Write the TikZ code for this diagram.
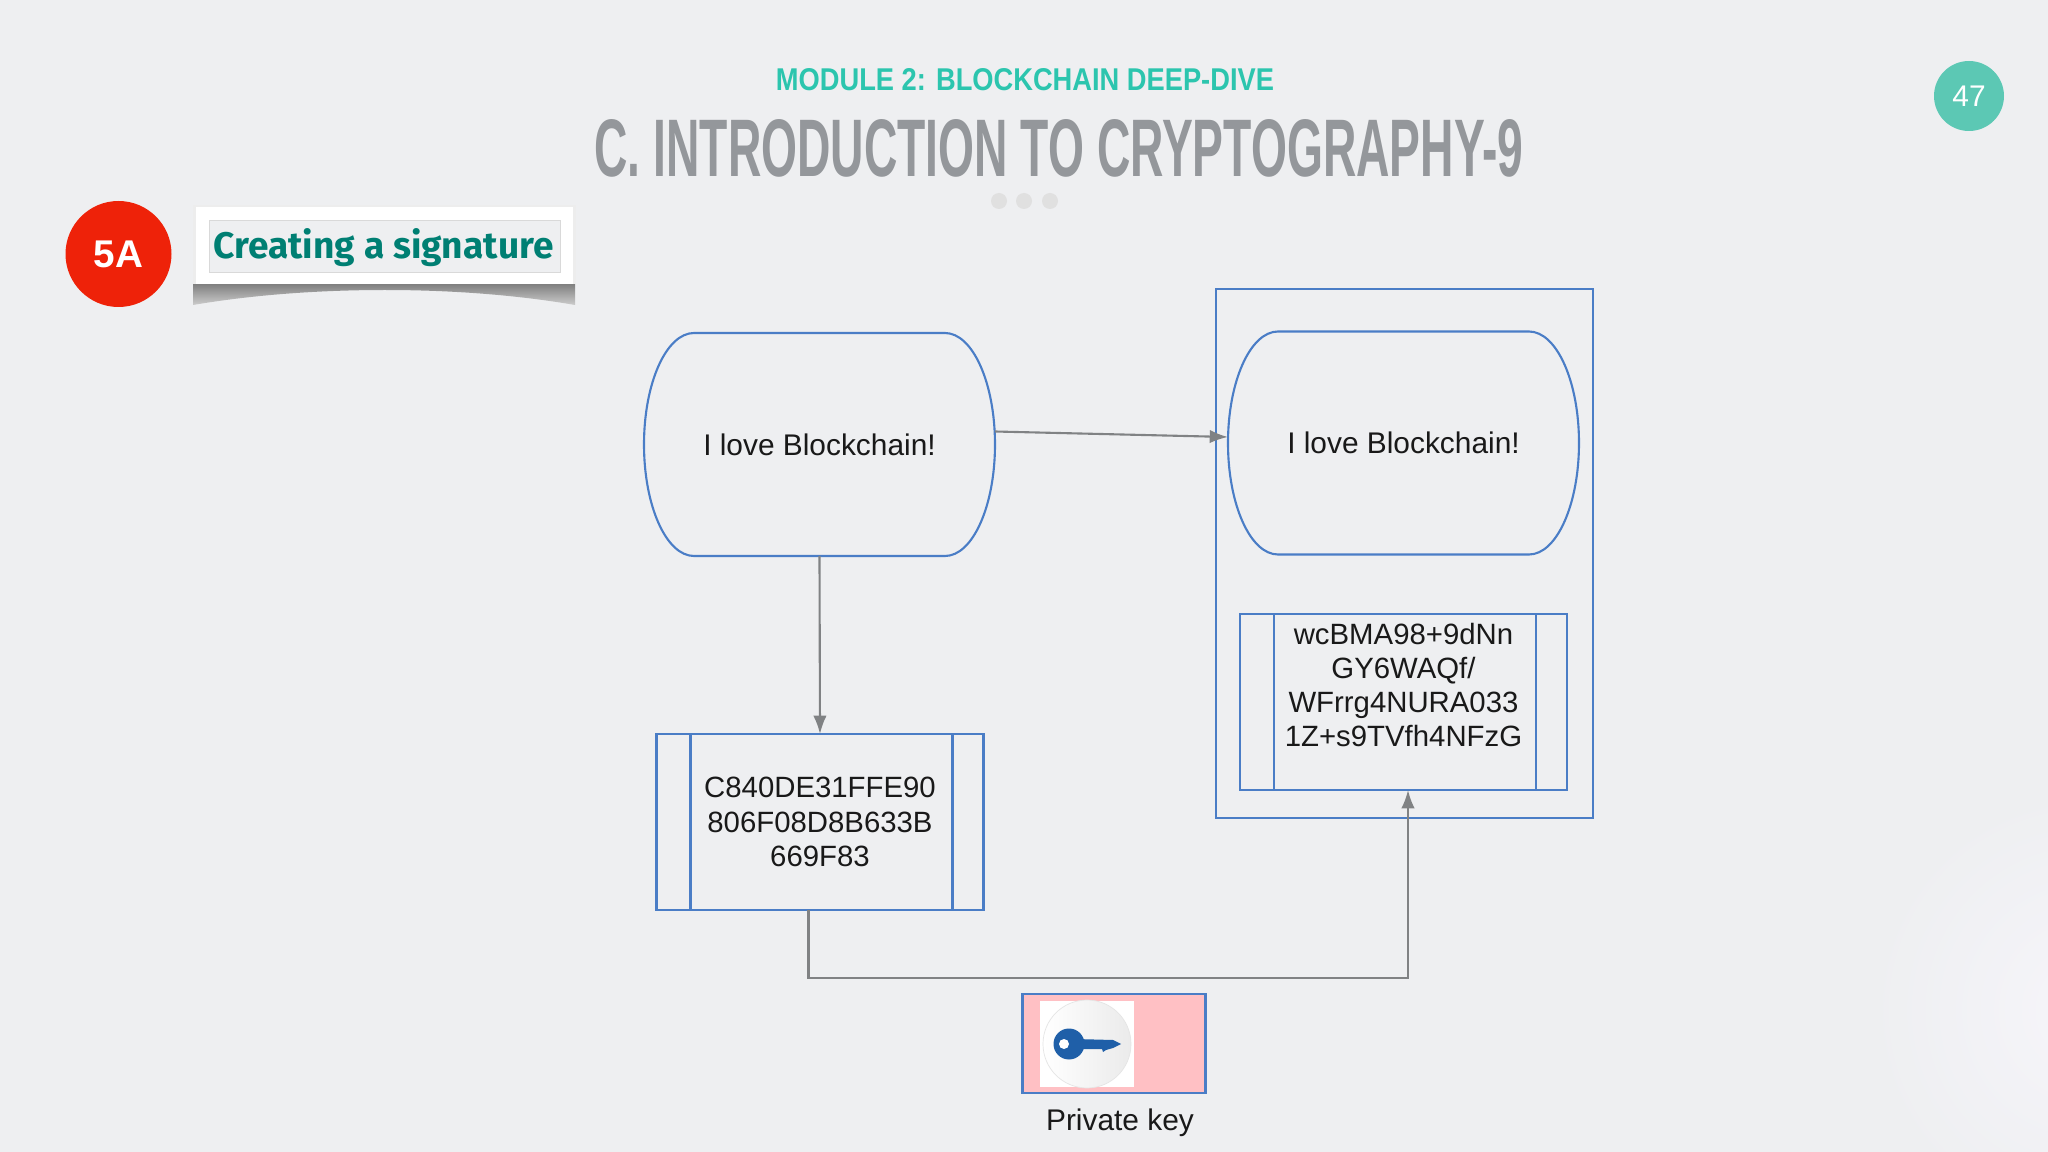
\documentclass[tikz,border=0pt]{standalone}
\usepackage{graphicx}
\usepackage{fontspec}
\setmainfont{Liberation Sans}
\newfontfamily\tagfont{Fira Sans}
\usetikzlibrary{arrows.meta}
\definecolor{pagebg}{HTML}{EEEFF1}
\definecolor{pageglow}{HTML}{F6F5FA}
\definecolor{boxblue}{HTML}{4A7DC6}
\definecolor{linkgray}{HTML}{808284}
\definecolor{titlegray}{HTML}{94979B}
\definecolor{moduleteal}{HTML}{2CC5AE}
\definecolor{badgeteal}{HTML}{5CC8B4}
\definecolor{tagteal}{HTML}{007F73}
\definecolor{stepred}{HTML}{EE2209}
\definecolor{keypink}{HTML}{FFC0C4}
\definecolor{keyblue}{HTML}{1F5FA8}
\tikzset{
  boxline/.style={draw=boxblue,line width=0.6pt},
  linkline/.style={draw=linkgray,line width=0.6pt,-{Latex[length=5.2pt,width=3.8pt]}},
  plaintext/.style={inner sep=0pt,outer sep=0pt,font=\fontsize{8.5}{9.76}\selectfont,align=center,text=black!90},
  procbox/.style={boxline,inner sep=0pt,minimum width=3.27cm,minimum height=1.76cm,plaintext,font=\fontsize{8.35}{9.76}\selectfont},
}
\begin{document}
\begin{tikzpicture}
\useasboundingbox (0,0) rectangle (20.48,-11.52);
\fill[pagebg] (0,0) rectangle (20.48,-11.52);
\shade[inner color=pageglow,outer color=pagebg] (20.9,-10.1) circle (2.2);

% heading
\node[inner sep=0pt,anchor=base,text=moduleteal] (module) at (10.25,-0.91)
  {\resizebox{4.98cm}{0.22cm}{\bfseries MODULE 2: BLOCKCHAIN DEEP-DIVE}};
\node[inner sep=0pt,anchor=base,text=titlegray] (title) at (10.59,-1.77)
  {\resizebox{9.29cm}{0.57cm}{\bfseries C. INTRODUCTION TO CRYPTOGRAPHY-9}};
\foreach \x in {9.99,10.24,10.50}
  \fill[black!12] (\x,-2.01) circle (0.08);
\node[circle,fill=badgeteal,text=white,minimum size=0.70cm,inner sep=0pt,
  font=\fontsize{8.5}{10}\selectfont] (page) at (19.69,-0.96) {47};

% step tag
\node[circle,fill=stepred,text=white,minimum size=1.06cm,inner sep=0pt,
  font=\fontsize{11}{13}\bfseries] (stepno) at (1.185,-2.54) {5A};
\shade[top color=black!50,middle color=black!30,bottom color=black!20]
  (1.93,-2.84) -- (5.75,-2.84) -- (5.75,-3.05)
  .. controls (4.6,-2.85) and (3.1,-2.85) .. (1.93,-3.05) -- cycle;
\fill[black!7] (1.93,-2.05) rectangle (5.76,-2.84);
\fill[white] (1.96,-2.07) rectangle (5.73,-2.84);
\node[draw=black!15,line width=0.2pt,fill=pagebg,minimum width=3.51cm,minimum height=0.52cm,
  inner sep=0pt] (tagbox) at (3.845,-2.46) {};
\node[inner sep=0pt,anchor=base,text=tagteal] (tag) at (3.835,-2.59)
  {\resizebox{3.40cm}{0.30cm}{\tagfont\bfseries Creating a signature}};

% messages
\node[plaintext,minimum width=3.51cm,minimum height=2.23cm] (msgA) at (8.195,-4.445) {I love Blockchain!};
\node[plaintext,minimum width=3.51cm,minimum height=2.23cm] (msgB) at (14.035,-4.43) {I love Blockchain!};
\foreach \n in {msgA,msgB}
  \draw[boxline] ([xshift=0.5cm]\n.north west) -- ([xshift=-0.5cm]\n.north east)
    arc[start angle=90,end angle=-90,x radius=0.5cm,y radius=1.115cm]
    -- ([xshift=0.5cm]\n.south west)
    arc[start angle=270,end angle=90,x radius=0.5cm,y radius=1.115cm] -- cycle;

% hash and signature
\node[procbox] (hash) at (8.20,-8.22) {C840DE31FFE90\\806F08D8B633B\\669F83};
\node[boxline,minimum width=3.77cm,minimum height=5.29cm] (sigbox) at (14.045,-5.535) {};
\node[procbox] (sig) at (14.035,-7.02) {wcBMA98+9dNn\\GY6WAQf/\\WFrrg4NURA033\\1Z+s9TVfh4NFzG\\\mbox{}};
\foreach \n in {hash,sig} {
  \draw[boxline] ([xshift=0.34cm]\n.north west) -- ([xshift=0.34cm]\n.south west);
  \draw[boxline] ([xshift=-0.31cm]\n.north east) -- ([xshift=-0.31cm]\n.south east);
}

% private key
\node[boxline,fill=keypink,minimum width=1.83cm,minimum height=0.99cm,inner sep=0pt] (keybox) at (11.14,-10.435) {};
\fill[white] (10.40,-10.01) rectangle (11.34,-10.87);
\shade[shading angle=-20,left color=white,right color=black!8,draw=black!10,line width=0.2pt] (10.87,-10.44) circle (0.44);
\fill[keyblue] (11.21,-10.44) -- (11.13,-10.40) -- (10.75,-10.39) -- (10.75,-10.49)
  -- (11.02,-10.49) -- (11.03,-10.52) -- (11.06,-10.50) -- (11.13,-10.48) -- cycle;
\fill[keyblue] (10.69,-10.44) circle (0.155);
\fill[white] (10.64,-10.44) circle (0.05);
\node[plaintext] (keytext) at (11.20,-11.225) {Private key};

% links
\draw[linkline] ([yshift=0.13cm]msgA.east) -- ([yshift=0.06cm]msgB.west);
\draw[linkline] (msgA.south) -- (hash.north);
\draw[linkline] ([xshift=-0.115cm]hash.south) -- ++(0,-0.68) -| ([xshift=0.045cm]sig.south);
\end{tikzpicture}
\end{document}
